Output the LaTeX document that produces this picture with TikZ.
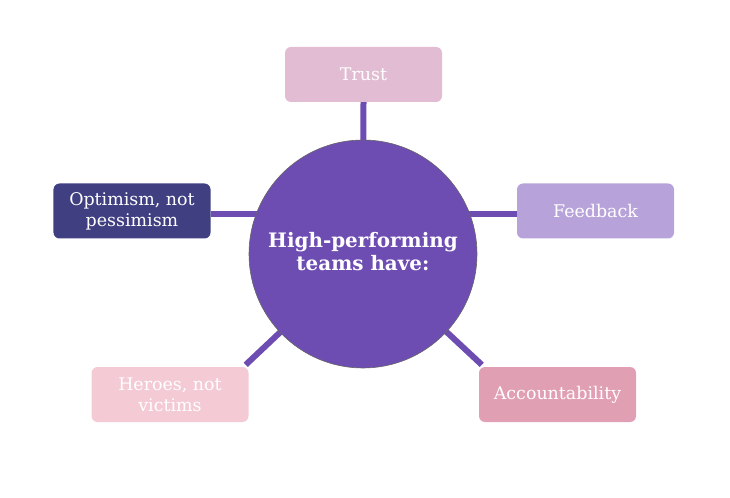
\documentclass[tikz,border=0pt]{standalone}
\usepackage{fontspec}
\setmainfont{DejaVu Serif}
\definecolor{hub}{HTML}{6E4DB3}
\definecolor{ctrust}{HTML}{E2BCD3}
\definecolor{cfeed}{HTML}{B7A3D9}
\definecolor{cacc}{HTML}{E09FB3}
\definecolor{chero}{HTML}{F4CBD5}
\definecolor{copt}{HTML}{403F82}
\begin{document}
\begin{tikzpicture}[x=1bp,y=-1bp,
  box/.style={rounded corners=6bp, minimum width=157bp, minimum height=55bp, text=white, align=center, inner sep=0pt,
    font=\fontsize{17.5}{21}\selectfont},
  link/.style={hub, line width=6bp}]
\useasboundingbox (0,0) rectangle (730,498);
\coordinate (c) at (363,254);
\node[box, fill=ctrust] (trust) at (363.5,74.5) {Trust};
\node[box, fill=cfeed] (feed) at (595.5,211) {Feedback};
\node[box, fill=cacc] (acc) at (557.5,394.5) {Accountability};
\node[box, fill=chero] (hero) at (170,394.5) {Heroes, not\\victims};
\node[box, fill=copt] (opt) at (132,211) {Optimism, not\\pessimism};
\draw[link] (c) -- (trust.south);
\draw[link] ([yshift=-3bp]opt.east) -- ([yshift=-3bp]feed.west);
\draw[link] (c) -- ([xshift=-3bp,yshift=2bp]hero.north east);
\draw[link] (c) -- ([xshift=3bp,yshift=2bp]acc.north west);
\node[circle, fill=hub, draw=black!60, line width=0.6bp, minimum size=228bp, inner sep=0pt, text=white, align=center,
  font=\bfseries\fontsize{20}{23}\selectfont] (hubn) at (c) {\raisebox{3bp}{\begin{tabular}{@{}c@{}}High-performing\\teams have:\end{tabular}}};
\end{tikzpicture}
\end{document}
